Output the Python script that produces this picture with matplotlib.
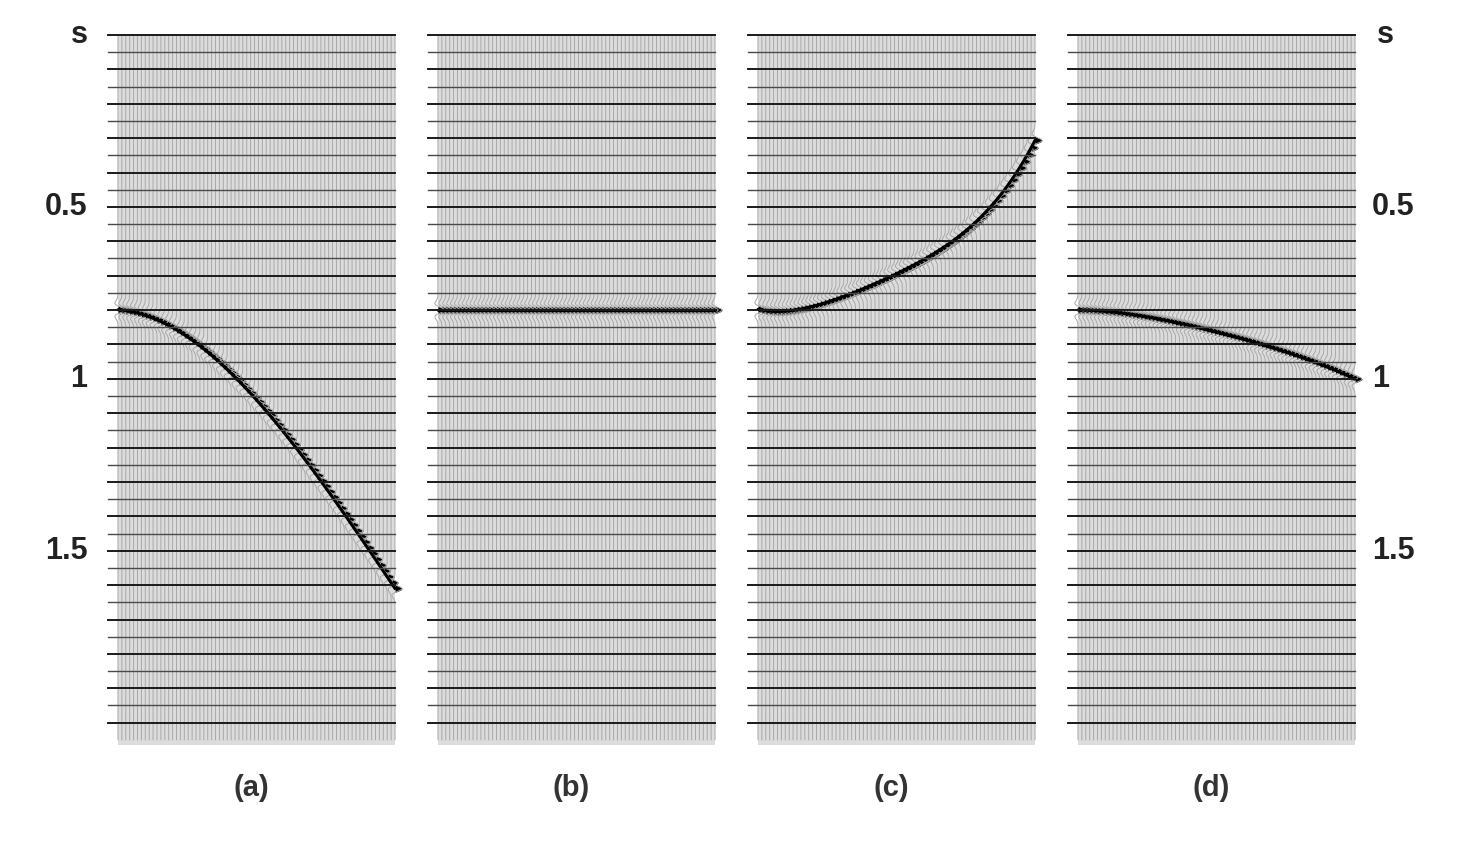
import numpy as np
import matplotlib
matplotlib.use("Agg")
import matplotlib.pyplot as plt

plt.rcParams["font.family"] = ["Liberation Sans", "DejaVu Sans"]

# event time (s) sampled at normalised offsets
offsets = [0.0, 0.125, 0.25, 0.375, 0.5, 0.625, 0.75, 0.875, 1.0]
times_a = [0.80, 0.82, 0.88, 0.96, 1.06, 1.18, 1.32, 1.46, 1.61]
times_b = [0.80, 0.80, 0.80, 0.80, 0.80, 0.80, 0.80, 0.80, 0.80]
times_c = [0.80, 0.795, 0.78, 0.745, 0.69, 0.64, 0.567, 0.47, 0.305]
times_d = [0.80, 0.805, 0.82, 0.84, 0.865, 0.89, 0.92, 0.96, 1.00]
panel_labels = ["(a)", "(b)", "(c)", "(d)"]
tick_vals = [0.5, 1.0, 1.5]
tick_text = ["0.5", "1", "1.5"]

n_traces = 72
t = np.linspace(0, 2.05, 2000)

def ricker(tt, f=20.0):
    a = (np.pi * f * tt) ** 2
    return (1 - 2 * a) * np.exp(-a)

fig = plt.figure(figsize=(14.64, 8.5), dpi=100)
lefts = [108, 428, 748, 1068]
for k, (times, lab) in enumerate(zip([times_a, times_b, times_c, times_d], panel_labels)):
    ax = fig.add_axes([lefts[k] / 1464, 105 / 850, 297 / 1464, 710 / 850])
    ax.set_xlim(-0.036, 1.036)
    ax.set_ylim(2.065, 0)
    ax.axis("off")
    ax.axvspan(0, 1, ymin=0, ymax=1, color="#dcdcdc", lw=0)
    # smooth curve through the read points
    curve = np.poly1d(np.polyfit(offsets, times, 4))
    xs = np.linspace(0, 1, n_traces)
    for x in xs:
        w = ricker(t - curve(x))
        tr = x + 0.025 * w
        ax.plot(tr, t, color="#a8a8a8", lw=0.7)
        ax.fill_betweenx(t, x, tr, where=w > 0.05, color="black", lw=0)
    xe = np.linspace(0, 1, 200)
    ax.plot(xe, curve(xe), color="black", lw=2.2, solid_capstyle="round")
    for i, y in enumerate(np.arange(0, 2.01, 0.05)):
        ax.plot([-0.036, 1.0], [y, y], color="#1a1a1a" if i % 2 == 0 else "#4a4a4a",
                lw=1.4 if i % 2 == 0 else 1.0, clip_on=False)
    ax.text(0.48, 2.19, lab, ha="center", va="center", fontsize=21,
            fontweight="bold", color="#333333", clip_on=False)
    if k == 0:
        for v, s in zip(tick_vals, tick_text):
            ax.text(-0.11, v, s, ha="right", va="center", fontsize=22, fontweight="bold", color="#222222")
        ax.text(-0.11, 0, "s", ha="right", va="center", fontsize=22, fontweight="bold", color="#222222")
    if k == 3:
        for v, s in zip(tick_vals, tick_text):
            ax.text(1.06, v, s, ha="left", va="center", fontsize=22, fontweight="bold", color="#222222")
        ax.text(1.08, 0, "s", ha="left", va="center", fontsize=22, fontweight="bold", color="#222222")

fig.savefig("out.png", dpi=100)
